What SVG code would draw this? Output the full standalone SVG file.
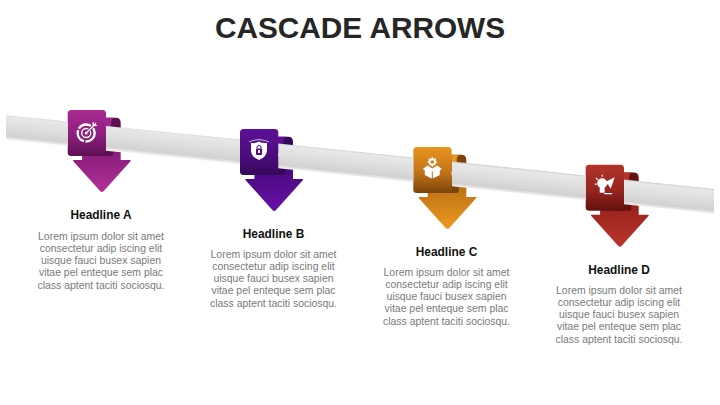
<svg xmlns="http://www.w3.org/2000/svg" width="720" height="405" viewBox="0 0 720 405">
<style>
text{font-family:"Liberation Sans",Arial,sans-serif;text-anchor:middle}
.title{font-size:29.8px;font-weight:700;fill:#262626}
.head{font-size:11.9px;font-weight:700;fill:#111}
.body{font-size:10.45px;fill:#7a7a7a}
.ic{fill:none;stroke:#fff;stroke-width:1.2;stroke-linecap:round;stroke-linejoin:round}
.if{fill:#fff}
</style>
<defs>
<linearGradient id="ta" x1="0" y1="0" x2="0" y2="1"><stop offset="0" stop-color="#a82c92"/><stop offset=".55" stop-color="#8e1f7e"/><stop offset="1" stop-color="#5c0f52"/></linearGradient>
<linearGradient id="aa" x1="0" y1="0" x2="0" y2="1"><stop offset="0" stop-color="#7a166c"/><stop offset="1" stop-color="#b2309c"/></linearGradient>
<linearGradient id="tb" x1="0" y1="0" x2="0" y2="1"><stop offset="0" stop-color="#5c1096"/><stop offset=".55" stop-color="#4d0c80"/><stop offset="1" stop-color="#34085a"/></linearGradient>
<linearGradient id="ab" x1="0" y1="0" x2="0" y2="1"><stop offset="0" stop-color="#420975"/><stop offset="1" stop-color="#6510a4"/></linearGradient>
<linearGradient id="tc" x1="0" y1="0" x2="0" y2="1"><stop offset="0" stop-color="#e8951f"/><stop offset=".55" stop-color="#c2731a"/><stop offset="1" stop-color="#7a4409"/></linearGradient>
<linearGradient id="ac" x1="0" y1="0" x2="0" y2="1"><stop offset="0" stop-color="#b06512"/><stop offset="1" stop-color="#ec9a20"/></linearGradient>
<linearGradient id="td" x1="0" y1="0" x2="0" y2="1"><stop offset="0" stop-color="#b2342a"/><stop offset=".55" stop-color="#962520"/><stop offset="1" stop-color="#64110f"/></linearGradient>
<linearGradient id="ad" x1="0" y1="0" x2="0" y2="1"><stop offset="0" stop-color="#8c1d18"/><stop offset="1" stop-color="#bb362b"/></linearGradient>
<linearGradient id="band" gradientUnits="userSpaceOnUse" x1="361.3" y1="152.200" x2="358.700" y2="176.900">
<stop offset="0" stop-color="#d2d2d2"/><stop offset=".06" stop-color="#e8e8e8"/><stop offset=".45" stop-color="#dedede"/><stop offset=".85" stop-color="#d2d2d2"/><stop offset=".97" stop-color="#f0f0f0"/><stop offset="1" stop-color="#fafafa"/>
</linearGradient>
<path id="arrow" d="M14.400 28V50H6.200Q4.600 50 5.600 51.300L32.600 81.200Q34.200 82.800 35.800 81.200L62.800 51.300Q63.800 50 62.200 50H53V28Z"/>
<path id="roll" d="M30 7.700H48Q53 7.700 53 13V24H30Z"/>
<path id="strip" d="M30 34H45.500V43.500Q45.500 46 43 46H30Z"/>
<rect id="tile" width="38.300" height="46" rx="3.500"/>
</defs>

<text class="title" x="360" y="38">CASCADE ARROWS</text>

<g id="node-a" transform="translate(67.700 110)">
<use href="#arrow" fill="url(#aa)"/><use href="#roll" fill="#5c0f52"/><path d="M38 7.700H46Q43 9 43.500 14V22H38Z" fill="#a02a8c"/><use href="#strip" fill="#5c0f52"/><use href="#tile" fill="url(#ta)"/>
<circle cx="18.500" cy="23" r="8.500" fill="none" stroke="#fff" stroke-width="2.400" stroke-dasharray="14 1.500"/><circle cx="18.500" cy="23" r="4.500" fill="none" stroke="#fff" stroke-width="1.400"/><circle cx="18.500" cy="23" r="1.500" fill="#fff"/>
<path d="M19 22.500L27 14.500" stroke="#8e1f7e" stroke-width="3"/><path class="ic" d="M19 22.500L28 13.500M25.500 12.500V15.500H29"/>
</g>
<g id="node-b" transform="translate(240 129)">
<use href="#arrow" fill="url(#ab)"/><use href="#roll" fill="#34085a"/><path d="M38 7.700H46Q43 9 43.500 14V22H38Z" fill="#5c1096"/><use href="#strip" fill="#34085a"/><use href="#tile" fill="url(#tb)"/>
<path class="if" d="M11 14Q16 14.500 19 12.500Q22 14.500 27 14V21Q27 28 19 31Q11 28 11 21Z"/>
<path d="M9 13L13 11.500L19 10.500L25 11.500L29 13" fill="none" stroke="#fff" stroke-width=".7"/>
<rect x="16" y="19.500" width="6" height="6.500" rx="1" fill="#4d0c80"/><path d="M17 19.500V17.500Q19 15 21 17.500V19.500" fill="none" stroke="#4d0c80"/>
<rect x="18" y="21" width="2" height="3" fill="#fff"/>
</g>
<g id="node-c" transform="translate(413.300 147)">
<use href="#arrow" fill="url(#ac)"/><use href="#roll" fill="#7a4409"/><path d="M38 7.700H46Q43 9 43.500 14V22H38Z" fill="#e8951f"/><use href="#strip" fill="#7a4409"/><use href="#tile" fill="url(#tc)"/>
<circle cx="19" cy="15" r="2.800" fill="none" stroke="#fff" stroke-width="2"/><path class="ic" d="M19 10.500V11.500M19 18.500V19.500M14.500 15H15.500M22.500 15H23.500M15.800 11.800L16.500 12.500M22.200 11.800L21.500 12.500" stroke-width="1.500"/>
<path class="if" d="M9.500 22L14 18.500L19 21.500L24 18.500L28.500 22L26.500 23.500V28L19.500 31.500V24.500H18.500V31.500L11.500 28V23.500Z"/>
</g>
<g id="node-d" transform="translate(585.700 164.700)">
<use href="#arrow" fill="url(#ad)"/><use href="#roll" fill="#64110f"/><path d="M38 7.700H46Q43 9 43.500 14V22H38Z" fill="#b2342a"/><use href="#strip" fill="#64110f"/><use href="#tile" fill="url(#td)"/>
<circle class="if" cx="16.500" cy="18.500" r="5"/><path class="if" d="M14 22H19V28H14Z"/><path class="if" d="M18 18L29 12.500L25 24L22.500 20Z"/><path class="ic" d="M10.500 13.500L12 15M9.500 19.500H10.500M16.500 10.500V11.500M19 29H26"/>
</g>

<g id="connectors"><path fill="url(#band)" d="M6 115.200L67.700 121.400V146.200L6 140ZM106 126L240 139.500V164.300L106 150.800ZM278.300 143.500L413.300 157.500V182.300L278.300 168.300ZM452 161.500L585.700 175.500V200.300L452 186.300ZM624 179.500L714 188.900V213.700L624 204.300Z"/></g>

<g id="label-a"><text class="head" x="101" y="219">Headline A</text>
<text class="body" x="101" y="239.500"><tspan x="101">Lorem ipsum dolor sit amet</tspan><tspan x="101" dy="12.300">consectetur adip iscing elit</tspan><tspan x="101" dy="12.300">uisque fauci busex sapien</tspan><tspan x="101" dy="12.300">vitae pel enteque sem plac</tspan><tspan x="101" dy="12.300">class aptent taciti sociosqu.</tspan></text></g>
<g id="label-b"><text class="head" x="273.500" y="237.500">Headline B</text>
<text class="body" x="273.500" y="257.500"><tspan x="273.500">Lorem ipsum dolor sit amet</tspan><tspan x="273.500" dy="12.300">consectetur adip iscing elit</tspan><tspan x="273.500" dy="12.300">uisque fauci busex sapien</tspan><tspan x="273.500" dy="12.300">vitae pel enteque sem plac</tspan><tspan x="273.500" dy="12.300">class aptent taciti sociosqu.</tspan></text></g>
<g id="label-c"><text class="head" x="446.500" y="255.500">Headline C</text>
<text class="body" x="446.500" y="275.500"><tspan x="446.500">Lorem ipsum dolor sit amet</tspan><tspan x="446.500" dy="12.300">consectetur adip iscing elit</tspan><tspan x="446.500" dy="12.300">uisque fauci busex sapien</tspan><tspan x="446.500" dy="12.300">vitae pel enteque sem plac</tspan><tspan x="446.500" dy="12.300">class aptent taciti sociosqu.</tspan></text></g>
<g id="label-d"><text class="head" x="619" y="273.500">Headline D</text>
<text class="body" x="619" y="293.500"><tspan x="619">Lorem ipsum dolor sit amet</tspan><tspan x="619" dy="12.300">consectetur adip iscing elit</tspan><tspan x="619" dy="12.300">uisque fauci busex sapien</tspan><tspan x="619" dy="12.300">vitae pel enteque sem plac</tspan><tspan x="619" dy="12.300">class aptent taciti sociosqu.</tspan></text></g>
</svg>
